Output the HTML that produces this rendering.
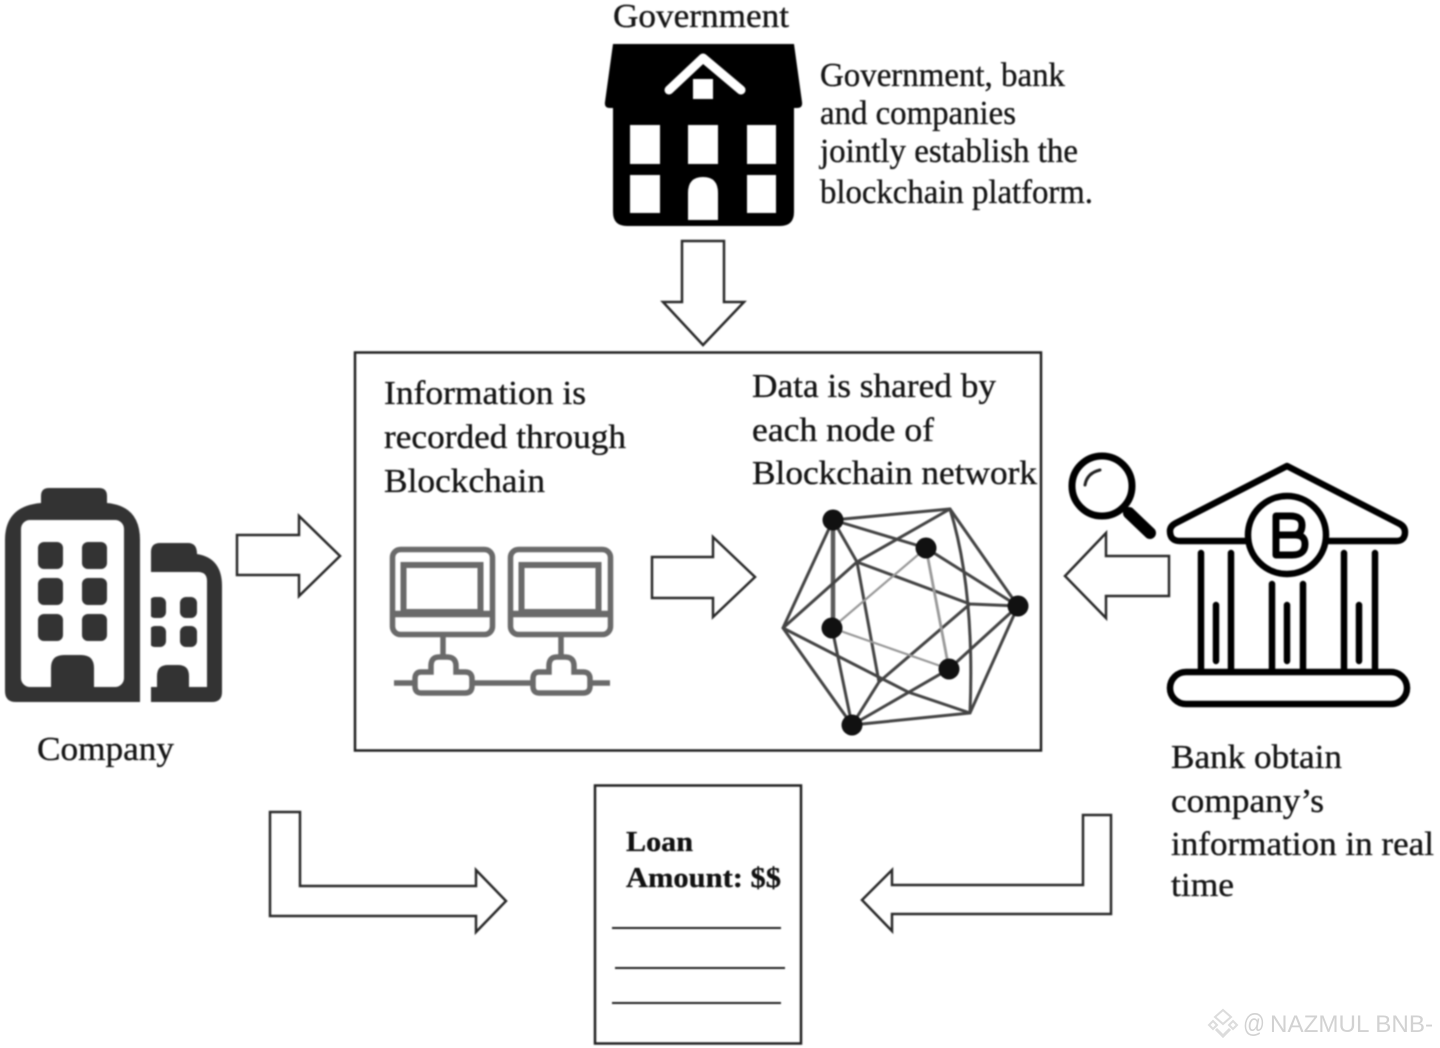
<!DOCTYPE html>
<html><head><meta charset="utf-8"><style>
html,body{margin:0;padding:0;background:#fff;width:1440px;height:1048px;overflow:hidden}
svg{display:block}
.t{font-family:"Liberation Serif",serif;font-size:34px;fill:#151515;stroke:#151515;stroke-width:.35}
.b{font-family:"Liberation Serif",serif;font-size:29px;font-weight:bold;fill:#111;stroke:#111;stroke-width:.3}
.ar{fill:#fff;stroke:#2a2a2a;stroke-width:2.5;stroke-linejoin:miter}
.soft{filter:blur(.85px)}
</style></head><body>
<svg width="1440" height="1048" viewBox="0 0 1440 1048" xmlns="http://www.w3.org/2000/svg">
<rect width="1440" height="1048" fill="#fff"/>
<g class="soft">
<!-- Government -->
<path d="M613 44H794L802 102Q803 108 797 108H794V212Q794 226 780 226H627Q613 226 613 212V108H610Q604 108 605 102Z" fill="#000"/>
<path d="M669 90L703 58L741 90" fill="none" stroke="#fff" stroke-width="9" stroke-linecap="round" stroke-linejoin="round"/>
<g fill="#fff">
<rect x="693" y="79" width="20" height="20"/>
<rect x="630" y="125" width="30" height="39"/><rect x="688" y="125" width="30" height="39"/><rect x="747" y="125" width="29" height="39"/>
<rect x="630" y="175" width="30" height="38"/><rect x="747" y="175" width="29" height="38"/>
<path d="M688 220V193Q688 177 703 177Q718 177 718 193V220Z"/>
</g>
<!-- Arrows -->
<path class="ar" d="M682 241H724V302H744L703 345L663 302H682Z"/>
<path class="ar" d="M237 535H299V516L340 556L299 596V575H237Z"/>
<path class="ar" d="M652 557H713V537L755 577L713 617V598H652Z"/>
<path class="ar" d="M1169 556H1106V533L1065 576L1106 618V596H1169Z"/>
<path class="ar" d="M270 812H300V886H476V870L506 901L476 932V916H270Z"/>
<path class="ar" d="M1111 815H1083V885H892V870L862 900L892 931V914H1111Z"/>
<!-- Main box -->
<rect x="355" y="352.500" width="686" height="398" fill="none" stroke="#222" stroke-width="2.500"/>
<!-- Company -->
<g fill="#333">
<path d="M41 503V496Q41 488 49 488H99Q107 488 107 496V503Q140 506 140 540V702H16Q5 702 5 691V540Q5 506 41 503Z"/>
<path d="M151 552Q151 543 160 543H188Q197 543 197 554Q222 558 222 586V692Q222 702 212 702H151V687H151V560H151Z"/>
</g>
<rect x="21" y="520" width="103" height="167" rx="9" fill="#fff"/>
<path d="M151 572H198Q207 572 207 581V687H151Z" fill="#fff"/>
<g fill="#333">
<rect x="38" y="542" width="25" height="27" rx="6"/><rect x="82" y="542" width="25" height="27" rx="6"/>
<rect x="38" y="578" width="25" height="27" rx="6"/><rect x="82" y="578" width="25" height="27" rx="6"/>
<rect x="38" y="614" width="25" height="27" rx="6"/><rect x="82" y="614" width="25" height="27" rx="6"/>
<path d="M51 690V668Q51 655 64 655H81Q94 655 94 668V690Z"/>
<rect x="149" y="597" width="17" height="21" rx="6"/><rect x="180" y="597" width="17" height="21" rx="6"/>
<rect x="149" y="626" width="17" height="21" rx="6"/><rect x="180" y="626" width="17" height="21" rx="6"/>
<path d="M157 690V676Q157 665 168 665H178Q189 665 189 676V690Z"/>
</g>
<rect x="140" y="480" width="11" height="230" fill="#fff"/>
<!-- Computers -->
<g fill="none" stroke="#6a6a6a" stroke-width="5.500">
<rect x="392.500" y="549.500" width="100" height="85" rx="8"/>
<rect x="403.500" y="565" width="77" height="47" stroke-width="6"/>
<path d="M393 614H492" stroke-width="6.500"/>
<path d="M443 637V656"/>
<path d="M421 693H465Q472 693 472 686V679Q472 672 465 672H456V666Q456 657 447 657H439Q431 657 431 666V672H421Q415 672 415 679V686Q415 693 421 693Z"/>
<rect x="510.500" y="549.500" width="100" height="85" rx="8"/>
<rect x="521.500" y="565" width="77" height="47" stroke-width="6"/>
<path d="M511 614H610" stroke-width="6.500"/>
<path d="M561 637V656"/>
<path d="M539 693H583Q590 693 590 686V679Q590 672 583 672H574V666Q574 657 565 657H557Q549 657 549 666V672H539Q533 672 533 679V686Q533 693 539 693Z"/>
<path d="M394 683H415M472 683H533M590 683H610"/>
</g>
<!-- Network -->
<g fill="none" stroke="#444" stroke-width="3">
<path d="M833 520L950 509L1018 606L970 713L852 725L783 628Z"/>
<path d="M833 520V628" stroke="#5a5a5a" stroke-width="4.500"/>
<path d="M833 520L926 548L1018 606"/>
<path d="M833 520L857 562L879 682"/>
<path d="M950 509L857 562L783 628"/>
<path d="M857 562L970 604L1018 606"/>
<path d="M970 604L879 682L852 725"/>
<path d="M950 509Q975 590 970 713"/>
<path d="M1018 606L949 669L852 725"/>
<path d="M783 628L908 692L970 713"/>
<path d="M832 628L852 725"/>
<path d="M832 628L926 548" stroke="#999" stroke-width="2.200"/>
<path d="M832 628L949 669" stroke="#999" stroke-width="2.200"/>
<path d="M926 548L949 669" stroke="#999" stroke-width="2.800"/>
</g>
<g fill="#111">
<circle cx="833" cy="520" r="10.500"/><circle cx="926" cy="548" r="10.500"/><circle cx="1018" cy="606" r="10.500"/>
<circle cx="832" cy="628" r="10.500"/><circle cx="949" cy="669" r="10.500"/><circle cx="852" cy="725" r="10.500"/>
</g>
<!-- Magnifier -->
<circle cx="1102" cy="486" r="30" fill="#fff" stroke="#000" stroke-width="7"/>
<path d="M1085 485Q1087 473 1100 470" fill="none" stroke="#222" stroke-width="3" stroke-linecap="round"/>
<path d="M1129 513L1150 533" stroke="#000" stroke-width="12" stroke-linecap="round"/>
<!-- Bank -->
<g fill="none" stroke="#000" stroke-width="6.500" stroke-linecap="round" stroke-linejoin="round">
<path d="M1247 541H1180Q1170 541 1170 531Q1170 526 1176 523L1287 466L1398 523Q1405 526 1405 532Q1405 541 1396 541H1327"/>
<circle cx="1287" cy="535" r="39" fill="#fff"/>
<rect x="1170" y="672" width="237" height="32" rx="16" fill="#fff"/>
<path d="M1201 553V671M1231 553V671M1272 584V671M1303 584V671M1344 553V671M1375 553V671"/>
<path d="M1216 605V661M1287 605V661M1359 605V661"/>
<path d="M1276 516V555H1292Q1305 555 1305 544Q1305 535 1295 535Q1302 534 1302 525Q1302 516 1290 516ZM1276 535H1295" stroke-width="7"/>
</g>
<!-- Document -->
<rect x="595" y="785.500" width="206" height="258" fill="none" stroke="#222" stroke-width="2.500"/>
<path d="M612 928H781M615 968H785M612 1003H781" stroke="#222" stroke-width="2"/>
<!-- Text -->
<text class="t" x="613" y="27" textLength="176" lengthAdjust="spacingAndGlyphs">Government</text>
<text class="t" x="820" y="86" textLength="245" lengthAdjust="spacingAndGlyphs">Government, bank</text>
<text class="t" x="820" y="124" textLength="196" lengthAdjust="spacingAndGlyphs">and companies</text>
<text class="t" x="820" y="162" textLength="258" lengthAdjust="spacingAndGlyphs">jointly establish the</text>
<text class="t" x="820" y="203" textLength="273" lengthAdjust="spacingAndGlyphs">blockchain platform.</text>
<text class="t" x="384" y="404" textLength="202" lengthAdjust="spacingAndGlyphs">Information is</text>
<text class="t" x="384" y="448" textLength="242" lengthAdjust="spacingAndGlyphs">recorded through</text>
<text class="t" x="384" y="492" textLength="161" lengthAdjust="spacingAndGlyphs">Blockchain</text>
<text class="t" x="752" y="397" textLength="244" lengthAdjust="spacingAndGlyphs">Data is shared by</text>
<text class="t" x="752" y="441" textLength="182" lengthAdjust="spacingAndGlyphs">each node of</text>
<text class="t" x="752" y="484" textLength="285" lengthAdjust="spacingAndGlyphs">Blockchain network</text>
<text class="t" x="37" y="760" textLength="137" lengthAdjust="spacingAndGlyphs">Company</text>
<text class="t" x="1171" y="768" textLength="171" lengthAdjust="spacingAndGlyphs">Bank obtain</text>
<text class="t" x="1171" y="812" textLength="153" lengthAdjust="spacingAndGlyphs">company’s</text>
<text class="t" x="1171" y="855" textLength="263" lengthAdjust="spacingAndGlyphs">information in real</text>
<text class="t" x="1171" y="896" textLength="63" lengthAdjust="spacingAndGlyphs">time</text>
<text class="b" x="626" y="851" textLength="67" lengthAdjust="spacingAndGlyphs">Loan</text>
<text class="b" x="626" y="887" textLength="155" lengthAdjust="spacingAndGlyphs">Amount: $$</text>
</g>
<!-- Watermark -->
<g fill="none" stroke="#dcdcdc" stroke-width="2">
<path d="M1223 1010L1231 1017L1223 1024L1215 1017Z"/>
<path d="M1213 1021L1217 1025L1213 1029L1209 1025Z"/>
<path d="M1233 1021L1237 1025L1233 1029L1229 1025Z"/>
<path d="M1216 1029L1223 1036L1230 1029" stroke-width="3"/>
</g>
<text x="1243" y="1032" font-family="'Liberation Sans',sans-serif" font-size="26" fill="#d2d2d2" textLength="22" lengthAdjust="spacingAndGlyphs">@</text>
<text x="1270" y="1032" font-family="'Liberation Sans',sans-serif" font-size="24" fill="#d2d2d2" textLength="163" lengthAdjust="spacingAndGlyphs">NAZMUL BNB-</text>
</svg>
</body></html>
